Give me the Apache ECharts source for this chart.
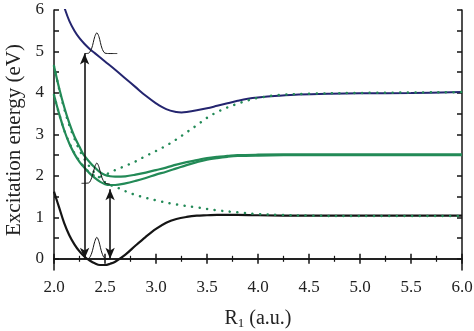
<!DOCTYPE html>
<html><head><meta charset="utf-8">
<script src="https://cdn.jsdelivr.net/npm/echarts@6/dist/echarts.min.js"></script>
<style>html,body{margin:0;padding:0;background:#fff}#c{width:474px;height:331px}</style>
</head><body><div id="c"></div>
<script>
// ---- data ----
const yTickLabels = [0, 1, 2, 3, 4, 5, 6];
const yTicks = [0, 0.5, 1, 1.5, 2, 2.5, 3, 3.5, 4, 4.5, 5, 5.5, 6];

const groundX = [2.0, 2.05, 2.1, 2.15, 2.2, 2.25, 2.3, 2.35, 2.4, 2.45, 2.5, 2.55, 2.6, 2.7, 2.8, 2.9, 3.0, 3.1, 3.2, 3.3, 3.4, 3.5, 3.6, 3.8, 4.0, 4.5, 5.0, 5.5, 6.0];
const groundY = [1.62, 1.24, 0.86, 0.57, 0.35, 0.18, 0.05, -0.04, -0.11, -0.15, -0.15, -0.12, -0.07, 0.10, 0.32, 0.53, 0.72, 0.87, 0.96, 1.01, 1.04, 1.05, 1.06, 1.06, 1.05, 1.04, 1.04, 1.04, 1.04];

const blueX = [2.08, 2.11, 2.15, 2.2, 2.25, 2.3, 2.35, 2.4, 2.5, 2.6, 2.7, 2.8, 2.9, 3.0, 3.1, 3.2, 3.25, 3.3, 3.4, 3.5, 3.6, 3.7, 3.8, 3.9, 4.0, 4.2, 4.4, 4.7, 5.0, 5.5, 6.0];
const blueY = [6.25, 6.0, 5.74, 5.50, 5.32, 5.18, 5.06, 4.96, 4.76, 4.56, 4.35, 4.14, 3.93, 3.75, 3.61, 3.54, 3.53, 3.54, 3.58, 3.63, 3.69, 3.75, 3.81, 3.86, 3.89, 3.93, 3.96, 3.98, 3.99, 4.0, 4.02];

const green1X = [2.0, 2.05, 2.1, 2.15, 2.2, 2.25, 2.29, 2.35, 2.4, 2.45, 2.5, 2.55, 2.6, 2.7, 2.8, 2.9, 3.0, 3.1, 3.2, 3.3, 3.4, 3.5, 3.6, 3.7, 3.8, 4.0, 4.5, 5.0, 6.0];
const green1Y = [4.65, 4.12, 3.66, 3.27, 2.95, 2.70, 2.51, 2.33, 2.20, 2.09, 2.02, 1.99, 1.98, 1.99, 2.03, 2.08, 2.14, 2.20, 2.27, 2.33, 2.38, 2.43, 2.46, 2.48, 2.50, 2.51, 2.52, 2.52, 2.52];

const green2X = [2.0, 2.05, 2.1, 2.15, 2.2, 2.25, 2.29, 2.35, 2.4, 2.45, 2.5, 2.55, 2.6, 2.7, 2.8, 2.9, 3.0, 3.1, 3.2, 3.3, 3.4, 3.5, 3.6, 3.7, 3.8, 4.0, 4.5, 5.0, 6.0];
const green2Y = [3.95, 3.50, 3.10, 2.78, 2.53, 2.34, 2.22, 2.06, 1.95, 1.86, 1.80, 1.78, 1.78, 1.82, 1.88, 1.95, 2.03, 2.10, 2.18, 2.26, 2.33, 2.39, 2.43, 2.46, 2.48, 2.49, 2.50, 2.50, 2.50];

const dotDownX = [2.0, 2.05, 2.1, 2.15, 2.2, 2.25, 2.3, 2.35, 2.4, 2.45, 2.5, 2.55, 2.6, 2.7, 2.8, 2.9, 3.0, 3.2, 3.4, 3.6, 3.8, 4.0, 4.2, 4.5, 5.0, 6.0];
const dotDownY = [4.65, 4.10, 3.62, 3.22, 2.90, 2.62, 2.40, 2.22, 2.07, 1.95, 1.85, 1.78, 1.74, 1.63, 1.54, 1.47, 1.41, 1.31, 1.24, 1.17, 1.12, 1.08, 1.06, 1.04, 1.03, 1.03];

const dotUpX = [2.0, 2.05, 2.1, 2.15, 2.2, 2.25, 2.3, 2.35, 2.4, 2.45, 2.5, 2.55, 2.6, 2.7, 2.8, 2.9, 3.0, 3.1, 3.2, 3.3, 3.4, 3.5, 3.6, 3.7, 3.8, 3.9, 4.0, 4.2, 4.5, 5.0, 6.0];
const dotUpY = [3.95, 3.50, 3.10, 2.80, 2.55, 2.36, 2.20, 2.08, 2.00, 1.98, 2.02, 2.08, 2.14, 2.24, 2.35, 2.48, 2.60, 2.73, 2.88, 3.05, 3.22, 3.40, 3.54, 3.65, 3.74, 3.82, 3.88, 3.95, 3.98, 4.0, 4.02];

// annotation shapes (wave packets) and arrows
const packetTopX = [2.30, 2.34, 2.37, 2.40, 2.42, 2.44, 2.47, 2.50, 2.55, 2.62];
const packetTopY = [4.95, 4.96, 5.08, 5.36, 5.45, 5.36, 5.08, 4.96, 4.95, 4.95];
const packetMidX = [2.27, 2.34, 2.37, 2.40, 2.42, 2.44, 2.47, 2.50, 2.55];
const packetMidY = [1.82, 1.83, 1.96, 2.22, 2.31, 2.22, 1.96, 1.83, 1.80];
const packetLowX = [2.29, 2.34, 2.37, 2.40, 2.42, 2.44, 2.47, 2.50, 2.55];
const packetLowY = [0.0, 0.01, 0.14, 0.42, 0.52, 0.42, 0.14, 0.01, 0.0];
const arrowX = [2.3, 2.55];
const arrowFrom = [0.0, 0.0];
const arrowTo = [4.95, 1.68];

const zip = (xs, ys) => xs.map((x, i) => [x, ys[i]]);

const BLACK = '#151515', BLUE = '#24256f', GREEN = '#238a57';
const FONT = '"Liberation Serif", "DejaVu Serif", serif';

const axisLineStyle = { color: BLACK, width: 1.5 };

const chart = echarts.init(document.getElementById('c'), null, { renderer: 'canvas' });
chart.setOption({
  animation: false,
  backgroundColor: '#fff',
  grid: { left: 54, right: 12, top: 10, bottom: 61, containLabel: false, outerBoundsMode: 'none' },
  xAxis: [
    {
      type: 'value', min: 2, max: 6, interval: 0.5, position: 'bottom',
      axisLine: { show: true, lineStyle: axisLineStyle },
      axisTick: { show: true, inside: true, length: 5, lineStyle: { color: BLACK, width: 1.5 } },
      minorTick: { show: true, splitNumber: 2, length: 3, lineStyle: { color: BLACK, width: 1.2 } },
      axisLabel: { color: '#222', fontFamily: FONT, fontSize: 17, margin: 9, formatter: v => v.toFixed(1) },
      splitLine: { show: false },
      name: 'R{sub|1} (a.u.)', nameLocation: 'middle', nameGap: 37,
      nameTextStyle: { color: '#222', fontFamily: FONT, fontSize: 20,
        rich: { sub: { fontFamily: FONT, fontSize: 13, verticalAlign: 'bottom', padding: [10, 0, 0, 0], color: '#222' } } }
    },
    {
      type: 'value', min: 2, max: 6, interval: 0.5, position: 'top',
      axisLine: { show: true, lineStyle: axisLineStyle },
      axisTick: { show: true, inside: true, length: 5, lineStyle: { color: BLACK, width: 1.5 } },
      minorTick: { show: true, splitNumber: 2, length: 3, lineStyle: { color: BLACK, width: 1.2 } },
      axisLabel: { show: false }, splitLine: { show: false }
    }
  ],
  yAxis: [
    {
      type: 'value', min: -0.27, max: 6, position: 'left',
      axisLine: { show: true, lineStyle: axisLineStyle },
      axisTick: { show: true, inside: true, length: 5, customValues: yTicks, lineStyle: { color: BLACK, width: 1.5 } },
      axisLabel: { customValues: yTickLabels, color: '#222', fontFamily: FONT, fontSize: 17, margin: 10 },
      splitLine: { show: false },
      name: 'Excitation energy (eV)', nameLocation: 'middle', nameGap: 29,
      nameTextStyle: { color: '#222', fontFamily: FONT, fontSize: 21 }
    },
    {
      type: 'value', min: -0.27, max: 6, position: 'right',
      axisLine: { show: true, lineStyle: axisLineStyle },
      axisTick: { show: true, inside: true, length: 5, customValues: yTicks, lineStyle: { color: BLACK, width: 1.5 } },
      axisLabel: { show: false }, splitLine: { show: false }
    }
  ],
  series: [
    { type: 'line', data: zip(groundX, groundY), smooth: 0.35, symbol: 'none', clip: true,
      lineStyle: { color: BLACK, width: 2.2 } },
    { type: 'line', data: zip(blueX, blueY), smooth: 0.35, symbol: 'none', clip: true,
      lineStyle: { color: BLUE, width: 2 } },
    { type: 'line', data: zip(green1X, green1Y), smooth: 0.35, symbol: 'none', clip: true,
      lineStyle: { color: GREEN, width: 2.2 } },
    { type: 'line', data: zip(green2X, green2Y), smooth: 0.35, symbol: 'none', clip: true,
      lineStyle: { color: GREEN, width: 2.2 } },
    { type: 'line', data: zip(dotDownX, dotDownY), smooth: 0.35, symbol: 'none', clip: true,
      lineStyle: { color: GREEN, width: 2.5, type: [0.1, 7.5], cap: 'round' } },
    { type: 'line', data: zip(dotUpX, dotUpY), smooth: 0.35, symbol: 'none', clip: true,
      lineStyle: { color: GREEN, width: 2.5, type: [0.1, 7.5], cap: 'round' } },
    { type: 'line', data: zip(packetTopX, packetTopY), smooth: 0.3, symbol: 'none',
      lineStyle: { color: BLACK, width: 1 } },
    { type: 'line', data: zip(packetMidX, packetMidY), smooth: 0.3, symbol: 'none',
      lineStyle: { color: BLACK, width: 1 } },
    { type: 'line', data: zip(packetLowX, packetLowY), smooth: 0.3, symbol: 'none',
      lineStyle: { color: BLACK, width: 1 } },
    { type: 'line', data: [], symbol: 'none',
      markLine: {
        silent: true, symbol: ['arrow', 'arrow'], symbolSize: [7, 11], label: { show: false },
        lineStyle: { color: BLACK, width: 1.6, type: 'solid' },
        data: arrowX.map((x, i) => [{ coord: [x, arrowFrom[i]] }, { coord: [x, arrowTo[i]] }])
      } }
  ]
});
</script></body></html>
